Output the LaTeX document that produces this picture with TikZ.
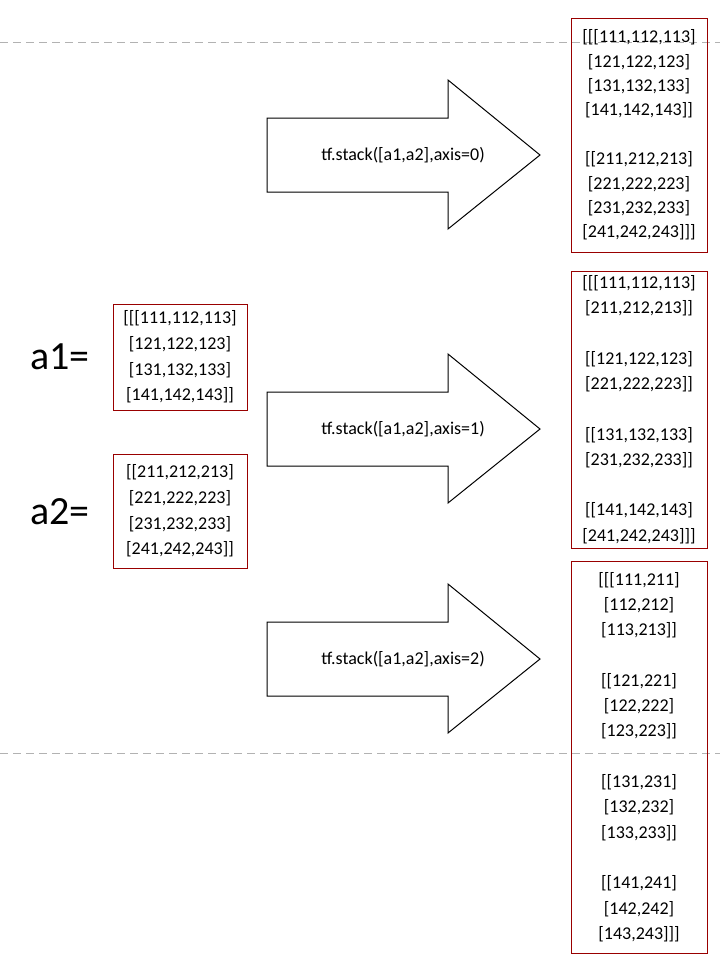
\documentclass[tikz,border=0pt]{standalone}
\usepackage{fontspec}
\setmainfont{Carlito}
\begin{document}
\begin{tikzpicture}[x=1pt,y=-1pt,
  box/.style={draw=red!60!black,line width=0.9pt,inner sep=0pt,align=center},
  arr/.style={draw=black,line width=1pt,fill=white},
  lab/.style={font=\fontsize{18}{22}\selectfont},
  gdash/.style={draw=gray!60,line width=0.8pt,dash pattern=on 8pt off 5pt}]
\useasboundingbox (0,0) rectangle (720,956);
\coordinate (d1a) at (0,42); \coordinate (d1b) at (720,42);
\coordinate (d2a) at (0,753); \coordinate (d2b) at (720,753);
\draw[gdash] (d1a) -- (d1b);
\draw[gdash] (d2a) -- (d2b);
% right boxes
\node[box,minimum width=136pt,minimum height=234pt,font=\fontsize{18}{24.4}\selectfont] (r0) at (639,135)
 {[[[111,112,113]\\{}[121,122,123]\\{}[131,132,133]\\{}[141,142,143]]\\ \\{}[[211,212,213]\\{}[221,222,223]\\{}[231,232,233]\\{}[241,242,243]]]};
\node[box,minimum width=136pt,minimum height=277pt,font=\fontsize{18}{25.3}\selectfont] (r1) at (639,409.5)
 {[[[111,112,113]\\{}[211,212,213]]\\ \\{}[[121,122,123]\\{}[221,222,223]]\\ \\{}[[131,132,133]\\{}[231,232,233]]\\ \\{}[[141,142,143]\\{}[241,242,243]]]};
\node[box,minimum width=136pt,minimum height=392pt,font=\fontsize{18}{25.3}\selectfont] (r2) at (639,757)
 {[[[111,211]\\{}[112,212]\\{}[113,213]]\\ \\{}[[121,221]\\{}[122,222]\\{}[123,223]]\\ \\{}[[131,231]\\{}[132,232]\\{}[133,233]]\\ \\{}[[141,241]\\{}[142,242]\\{}[143,243]]]};
% inputs
\node[box,minimum width=134pt,minimum height=106pt,font=\fontsize{18}{25.6}\selectfont] (a1) at (180,357)
 {[[[111,112,113]\\{}[121,122,123]\\{}[131,132,133]\\{}[141,142,143]]};
\node[box,minimum width=134pt,minimum height=114pt,font=\fontsize{18}{25.6}\selectfont] (a2) at (180,511)
 {[[211,212,213]\\{}[221,222,223]\\{}[231,232,233]\\{}[241,242,243]]};
\node[font=\fontsize{40}{44}\selectfont] (l1) at (60,357) {a1=};
\node[font=\fontsize{40}{44}\selectfont] (l2) at (60,512) {a2=};
% arrows
\foreach \c/\n in {155/0,429/1,659/2}{
  \draw[arr] (267,\c-37) -- (448,\c-37) -- (448,\c-75) -- (540,\c) -- (448,\c+74) -- (448,\c+37) -- (267,\c+37) -- cycle;
  \node[lab] (t\n) at (403,\c) {tf.stack([a1,a2],axis=\n)};
}
\end{tikzpicture}
\end{document}
